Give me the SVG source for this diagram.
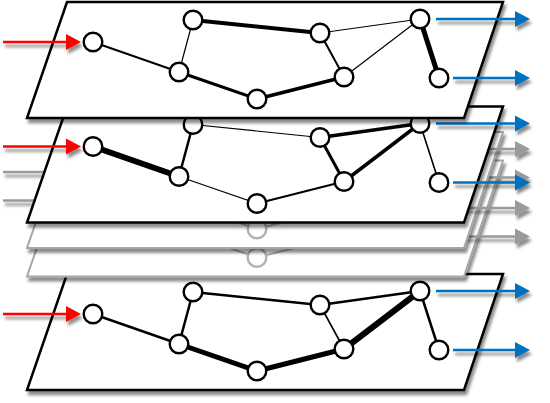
<svg xmlns="http://www.w3.org/2000/svg" width="550" height="403" viewBox="0 0 550 403">
<defs>
<filter id="sh" x="-10%" y="-20%" width="130%" height="160%">
<feDropShadow dx="2" dy="4" stdDeviation="1.6" flood-color="#000" flood-opacity="0.45"/>
</filter>
<filter id="sha" filterUnits="userSpaceOnUse" x="-10" y="-40" width="580" height="220">
<feDropShadow dx="2" dy="4" stdDeviation="1.6" flood-color="#000" flood-opacity="0.45"/>
</filter>
<marker id="hr" markerUnits="userSpaceOnUse" viewBox="0 -9 16 18" markerWidth="16" markerHeight="18" refX="2" refY="0" orient="auto"><path d="M0,-8 L15,0 L0,8 z" fill="#ff0000"/></marker>
<marker id="hb" markerUnits="userSpaceOnUse" viewBox="0 -9 16 18" markerWidth="16" markerHeight="18" refX="2" refY="0" orient="auto"><path d="M0,-8 L15,0 L0,8 z" fill="#0070c0"/></marker>
<marker id="hg" markerUnits="userSpaceOnUse" viewBox="0 -9 16 18" markerWidth="16" markerHeight="18" refX="2" refY="0" orient="auto"><path d="M0,-8 L15,0 L0,8 z" fill="#9a9a9a"/></marker>
</defs>
<style>
.plane{fill:#fff;stroke:#000;stroke-width:2.5;stroke-linejoin:miter;filter:url(#sh)}
.ghost{fill:#fff;stroke:#a6a6a6;stroke-width:2;filter:url(#sh)}
.e{stroke:#000;fill:none;stroke-linecap:round}
.w1{stroke-width:1.2}.w15{stroke-width:1.6}.w2{stroke-width:2}.w25{stroke-width:2.5}.w3{stroke-width:3}.w35{stroke-width:3.5}.w4{stroke-width:4}.w5{stroke-width:5}.w6{stroke-width:6}
.n circle{fill:#fff;stroke:#000;stroke-width:2.4}
.gc circle{fill:#fff;stroke:#000;stroke-width:2.4}
.ar{stroke:#ff0000;stroke-width:2.5;marker-end:url(#hr);filter:url(#sha)}
.ab{stroke:#0070c0;stroke-width:2.5;marker-end:url(#hb);filter:url(#sha)}
.ag{stroke:#9a9a9a;stroke-width:2.5;marker-end:url(#hg);filter:url(#sha)}
.gl{stroke:#9a9a9a;stroke-width:2.5;filter:url(#sha)}
</style>

<!-- Bottom layer -->
<g id="layer3" transform="translate(0,272)">
<polygon class="plane" points="67,2 503,2 464,118 27,118"/>
<g id="connectors3">
<line class="e w25" x1="93" y1="42" x2="179" y2="72"/>
<line class="e w25" x1="193" y1="20" x2="179" y2="72"/>
<line class="e w25" x1="193" y1="20" x2="320" y2="33"/>
<line class="e w5" x1="179" y1="72" x2="257" y2="99"/>
<line class="e w5" x1="257" y1="99" x2="344" y2="77"/>
<line class="e w15" x1="320" y1="33" x2="344" y2="77"/>
<line class="e w25" x1="320" y1="33" x2="420" y2="19"/>
<line class="e w6" x1="344" y1="77" x2="420" y2="19"/>
<line class="e w25" x1="420" y1="19" x2="439" y2="78"/>
<line class="ar" x1="3" y1="42" x2="68" y2="42"/>
<line class="ab" x1="436" y1="19" x2="517" y2="19"/>
<line class="ab" x1="453" y1="78" x2="517" y2="78"/>
</g>
<g id="l3n1" class="n"><circle cx="93" cy="42" r="9.3"/></g>
<g id="l3n2" class="n"><circle cx="193" cy="20" r="9.3"/></g>
<g id="l3n3" class="n"><circle cx="179" cy="72" r="9.3"/></g>
<g id="l3n4" class="n"><circle cx="257" cy="99" r="9.3"/></g>
<g id="l3n5" class="n"><circle cx="320" cy="33" r="9.3"/></g>
<g id="l3n6" class="n"><circle cx="344" cy="77" r="9.3"/></g>
<g id="l3n7" class="n"><circle cx="420" cy="19" r="9.3"/></g>
<g id="l3n8" class="n"><circle cx="439" cy="78" r="9.3"/></g>
</g>

<!-- Ghost layer B -->
<g id="ghostB" transform="translate(0,158.5)">
<line class="gl" x1="3" y1="42" x2="60" y2="42"/>
<polygon class="ghost" points="67,2 503,2 464,118 27,118"/>
<line class="ag" x1="436" y1="19" x2="517" y2="19"/>
<line class="ag" x1="453" y1="78" x2="517" y2="78"/>
<g opacity="0.3">
<line class="e w3" x1="93" y1="42" x2="179" y2="72"/>
<line class="e w2" x1="193" y1="20" x2="179" y2="72"/>
<line class="e w2" x1="193" y1="20" x2="320" y2="33"/>
<line class="e w2" x1="179" y1="72" x2="257" y2="99"/>
<line class="e w2" x1="257" y1="99" x2="344" y2="77"/>
<line class="e w2" x1="320" y1="33" x2="344" y2="77"/>
<line class="e w2" x1="320" y1="33" x2="420" y2="19"/>
<line class="e w2" x1="344" y1="77" x2="420" y2="19"/>
<line class="e w2" x1="420" y1="19" x2="439" y2="78"/>
<g class="gc">
<circle cx="93" cy="42" r="9.3"/><circle cx="193" cy="20" r="9.3"/><circle cx="179" cy="72" r="9.3"/><circle cx="257" cy="99" r="9.3"/>
<circle cx="320" cy="33" r="9.3"/><circle cx="344" cy="77" r="9.3"/><circle cx="420" cy="19" r="9.3"/><circle cx="439" cy="78" r="9.3"/>
</g>
</g>
</g>

<!-- Ghost layer A -->
<g id="ghostA" transform="translate(0,130)">
<line class="gl" x1="3" y1="42" x2="60" y2="42"/>
<polygon class="ghost" points="67,2 503,2 464,118 27,118"/>
<line class="ag" x1="436" y1="19" x2="517" y2="19"/>
<line class="ag" x1="453" y1="78" x2="517" y2="78"/>
<g opacity="0.3">
<line class="e w3" x1="93" y1="42" x2="179" y2="72"/>
<line class="e w2" x1="193" y1="20" x2="179" y2="72"/>
<line class="e w2" x1="193" y1="20" x2="320" y2="33"/>
<line class="e w2" x1="179" y1="72" x2="257" y2="99"/>
<line class="e w2" x1="257" y1="99" x2="344" y2="77"/>
<line class="e w2" x1="320" y1="33" x2="344" y2="77"/>
<line class="e w2" x1="320" y1="33" x2="420" y2="19"/>
<line class="e w2" x1="344" y1="77" x2="420" y2="19"/>
<line class="e w2" x1="420" y1="19" x2="439" y2="78"/>
<g class="gc">
<circle cx="93" cy="42" r="9.3"/><circle cx="193" cy="20" r="9.3"/><circle cx="179" cy="72" r="9.3"/><circle cx="257" cy="99" r="9.3"/>
<circle cx="320" cy="33" r="9.3"/><circle cx="344" cy="77" r="9.3"/><circle cx="420" cy="19" r="9.3"/><circle cx="439" cy="78" r="9.3"/>
</g>
</g>
</g>

<!-- Middle layer -->
<g id="layer2" transform="translate(0,104.5)">
<polygon class="plane" points="67,2 503,2 464,118 27,118"/>
<g id="connectors2">
<line class="e w6" x1="93" y1="42" x2="179" y2="72"/>
<line class="e w25" x1="193" y1="20" x2="179" y2="72"/>
<line class="e w1" x1="193" y1="20" x2="320" y2="33"/>
<line class="e w1" x1="179" y1="72" x2="257" y2="99"/>
<line class="e w2" x1="257" y1="99" x2="344" y2="77"/>
<line class="e w3" x1="320" y1="33" x2="344" y2="77"/>
<line class="e w35" x1="320" y1="33" x2="420" y2="19"/>
<line class="e w35" x1="344" y1="77" x2="420" y2="19"/>
<line class="e w15" x1="420" y1="19" x2="439" y2="78"/>
<line class="ar" x1="3" y1="42" x2="68" y2="42"/>
<line class="ab" x1="436" y1="19" x2="517" y2="19"/>
<line class="ab" x1="453" y1="78" x2="517" y2="78"/>
</g>
<g id="l2n1" class="n"><circle cx="93" cy="42" r="9.3"/></g>
<g id="l2n2" class="n"><circle cx="193" cy="20" r="9.3"/></g>
<g id="l2n3" class="n"><circle cx="179" cy="72" r="9.3"/></g>
<g id="l2n4" class="n"><circle cx="257" cy="99" r="9.3"/></g>
<g id="l2n5" class="n"><circle cx="320" cy="33" r="9.3"/></g>
<g id="l2n6" class="n"><circle cx="344" cy="77" r="9.3"/></g>
<g id="l2n7" class="n"><circle cx="420" cy="19" r="9.3"/></g>
<g id="l2n8" class="n"><circle cx="439" cy="78" r="9.3"/></g>
</g>

<!-- Top layer -->
<g id="layer1">
<polygon class="plane" points="67,2 503,2 464,118 27,118"/>
<g id="connectors1">
<line class="e w2" x1="93" y1="42" x2="179" y2="72"/>
<line class="e w1" x1="193" y1="20" x2="179" y2="72"/>
<line class="e w4" x1="193" y1="20" x2="320" y2="33"/>
<line class="e w3" x1="179" y1="72" x2="257" y2="99"/>
<line class="e w35" x1="257" y1="99" x2="344" y2="77"/>
<line class="e w2" x1="320" y1="33" x2="344" y2="77"/>
<line class="e w1" x1="320" y1="33" x2="420" y2="19"/>
<line class="e w1" x1="344" y1="77" x2="420" y2="19"/>
<line class="e w5" x1="420" y1="19" x2="439" y2="78"/>
<line class="ar" x1="3" y1="42" x2="68" y2="42"/>
<line class="ab" x1="436" y1="19" x2="517" y2="19"/>
<line class="ab" x1="453" y1="78" x2="517" y2="78"/>
</g>
<g id="l1n1" class="n"><circle cx="93" cy="42" r="9.3"/></g>
<g id="l1n2" class="n"><circle cx="193" cy="20" r="9.3"/></g>
<g id="l1n3" class="n"><circle cx="179" cy="72" r="9.3"/></g>
<g id="l1n4" class="n"><circle cx="257" cy="99" r="9.3"/></g>
<g id="l1n5" class="n"><circle cx="320" cy="33" r="9.3"/></g>
<g id="l1n6" class="n"><circle cx="344" cy="77" r="9.3"/></g>
<g id="l1n7" class="n"><circle cx="420" cy="19" r="9.3"/></g>
<g id="l1n8" class="n"><circle cx="439" cy="78" r="9.3"/></g>
</g>
</svg>
